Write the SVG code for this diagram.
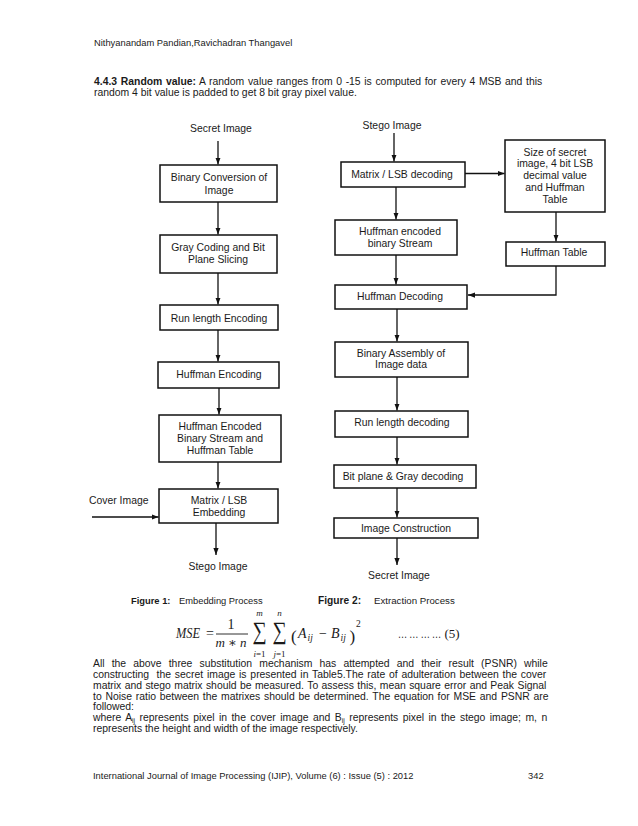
<svg xmlns="http://www.w3.org/2000/svg" width="638" height="826" viewBox="0 0 638 826">
<defs>
<marker id="ah" viewBox="0 0 8 6" refX="8" refY="3" markerWidth="7" markerHeight="5.5" orient="auto" markerUnits="userSpaceOnUse"><path d="M0,0 L8,3 L0,6 z" fill="#111"/></marker>
<style>
.t{font-family:"Liberation Sans",Arial,sans-serif;fill:#1a1a1a}
.fc{font-family:"Liberation Sans",Arial,sans-serif;font-size:10.4px;fill:#1a1a1a;text-anchor:middle}
.p{font-family:"Liberation Sans",Arial,sans-serif;font-size:10.4px;fill:#1a1a1a}
.box{fill:#fff;stroke:#111;stroke-width:1.5}
.ln{fill:none;stroke:#111;stroke-width:1.3;marker-end:url(#ah)}
.m{font-family:"Liberation Serif","DejaVu Serif",serif;fill:#1a1a1a}
.mi{font-family:"Liberation Serif","DejaVu Serif",serif;font-style:italic;fill:#1a1a1a}
</style>
</defs>
<rect width="638" height="826" fill="#fff"/>

<g id="page-text">
<text class="t" x="94" y="45.5" font-size="9.36">Nithyanandam Pandian,Ravichadran Thangavel</text>
<text class="p" x="94" y="84.5" style="word-spacing:0.75px"><tspan font-weight="bold">4.4.3 Random value:</tspan> A random value ranges from 0 -15 is computed for every 4 MSB and this</text>
<text class="p" x="94" y="96">random 4 bit value is padded to get 8 bit gray pixel value.</text>

<text class="p" x="93" y="667" style="word-spacing:4.25px">All the above three substitution mechanism has attempted and their result (PSNR) while</text>
<text class="p" x="93" y="678" xml:space="preserve" style="word-spacing:0.91px">constructing  the secret image is presented in Table5.The rate of adulteration between the cover</text>
<text class="p" x="93" y="689" style="word-spacing:0.51px">matrix and stego matrix should be measured. To assess this, mean square error and Peak Signal</text>
<text class="p" x="93" y="699.5" style="word-spacing:0.89px">to Noise ratio between the matrixes should be determined. The equation for MSE and PSNR are</text>
<text class="p" x="93" y="710">followed:</text>
<text class="p" x="93" y="721" style="word-spacing:1.56px">where A<tspan font-size="6.8" dy="2">ij</tspan><tspan dy="-2"> represents pixel in the cover image and B</tspan><tspan font-size="6.8" dy="2">ij</tspan><tspan dy="-2"> represents pixel in the stego image; m, n</tspan></text>
<text class="p" x="93" y="731.5">represents the height and width of the image respectively.</text>

<text class="t" x="93" y="778.5" font-size="9.36">International Journal of Image Processing (IJIP), Volume (6) : Issue (5) : 2012</text>
<text class="t" x="528" y="778.5" font-size="9.36">342</text>

<text class="t" x="131" y="603.5" font-size="9.36" font-weight="bold">Figure 1:</text>
<text class="t" x="179" y="603.5" font-size="9.36">Embedding Process</text>
<text class="t" x="318" y="603.5" font-size="10.2" font-weight="bold">Figure 2:</text>
<text class="t" x="374" y="603.5" font-size="9.7">Extraction Process</text>
</g>

<g id="formula">
<text class="mi" x="176" y="638" font-size="14" textLength="24" lengthAdjust="spacingAndGlyphs">MSE</text>
<text class="m" x="210" y="638" font-size="14" text-anchor="middle">=</text>
<text class="m" x="231" y="629" font-size="14" text-anchor="middle">1</text>
<line x1="216" y1="634" x2="248" y2="634" stroke="#1a1a1a" stroke-width="0.9"/>
<text class="mi" x="231" y="647" font-size="13" text-anchor="middle">m <tspan font-style="normal">∗</tspan> n</text>
<text class="m" font-size="25" text-anchor="middle" font-family="DejaVu Serif" transform="translate(259.5,638.5) scale(0.8,1)">∑</text>
<text class="m" font-size="25" text-anchor="middle" font-family="DejaVu Serif" transform="translate(279.5,638.5) scale(0.8,1)">∑</text>
<text class="mi" x="259.5" y="616" font-size="9" text-anchor="middle">m</text>
<text class="mi" x="279.5" y="616" font-size="9" text-anchor="middle">n</text>
<text class="mi" x="259.5" y="657" font-size="9" text-anchor="middle">i<tspan font-style="normal">=1</tspan></text>
<text class="mi" x="279.5" y="657" font-size="9" text-anchor="middle">j<tspan font-style="normal">=1</tspan></text>
<text class="m" x="291" y="642" font-size="17">(</text>
<text class="mi" x="298" y="638" font-size="14">A</text>
<text class="mi" x="307.5" y="641" font-size="9.5">ij</text>
<text class="m" x="323" y="638" font-size="14" text-anchor="middle">−</text>
<text class="mi" x="331" y="638" font-size="14">B</text>
<text class="mi" x="340.5" y="641" font-size="9.5">ij</text>
<text class="m" x="349.5" y="642" font-size="17">)</text>
<text class="m" x="356" y="626.5" font-size="9.5">2</text>
<text class="m" x="398" y="638" font-size="13" textLength="43" lengthAdjust="spacingAndGlyphs">… … … …</text>
<text class="m" x="444.5" y="638" font-size="13">(5)</text>
</g>

<g id="connectors">
<line class="ln" x1="218" y1="141" x2="218" y2="164.5"/>
<line class="ln" x1="218" y1="202" x2="218" y2="234.5"/>
<line class="ln" x1="218" y1="273" x2="218" y2="304.5"/>
<line class="ln" x1="218" y1="330" x2="218" y2="361.5"/>
<line class="ln" x1="219" y1="388" x2="219" y2="414.5"/>
<line class="ln" x1="218" y1="462" x2="218" y2="488.5"/>
<line class="ln" x1="92" y1="517" x2="158.5" y2="517"/>
<line class="ln" x1="216" y1="523" x2="216" y2="555"/>
<line class="ln" x1="394" y1="133" x2="394" y2="161.5"/>
<line class="ln" x1="465" y1="173.5" x2="504.5" y2="173.5"/>
<line class="ln" x1="556" y1="212" x2="556" y2="241.5"/>
<polyline class="ln" points="556,266 556,295 468,295"/>
<line class="ln" x1="396" y1="187" x2="396" y2="219.5"/>
<line class="ln" x1="396" y1="255" x2="396" y2="284.5"/>
<line class="ln" x1="397" y1="309" x2="397" y2="341.5"/>
<line class="ln" x1="397" y1="377" x2="397" y2="410.5"/>
<line class="ln" x1="397" y1="437" x2="397" y2="464.5"/>
<line class="ln" x1="397" y1="488" x2="397" y2="517.5"/>
<line class="ln" x1="397" y1="538" x2="397" y2="565"/>
</g>

<g id="secret-image-in"><text class="fc" x="221" y="132">Secret Image</text></g>
<g id="binary-conversion"><rect class="box" x="160" y="165" width="117" height="37"/><text class="fc" x="219" y="181">Binary Conversion of</text><text class="fc" x="219" y="193.5">Image</text></g>
<g id="gray-coding"><rect class="box" x="160" y="235" width="117" height="38"/><text class="fc" x="218" y="251">Gray Coding and Bit</text><text class="fc" x="218" y="262.5">Plane Slicing</text></g>
<g id="rle-encoding"><rect class="box" x="160" y="305" width="118" height="25"/><text class="fc" x="219" y="321.5">Run length Encoding</text></g>
<g id="huffman-encoding"><rect class="box" x="158" y="362" width="121" height="26"/><text class="fc" x="219" y="377.5">Huffman Encoding</text></g>
<g id="huffman-encoded-stream"><rect class="box" x="159" y="415" width="122" height="47"/><text class="fc" x="220" y="429.5">Huffman Encoded</text><text class="fc" x="220" y="441.5">Binary Stream and</text><text class="fc" x="220" y="453.5">Huffman Table</text></g>
<g id="matrix-lsb-embedding"><rect class="box" x="159" y="489" width="119" height="34"/><text class="fc" x="219" y="503.5">Matrix / LSB</text><text class="fc" x="219" y="515.5">Embedding</text></g>
<g id="cover-image"><text class="t" x="89" y="503.5" font-size="10.4">Cover Image</text></g>
<g id="stego-image-out"><text class="fc" x="218" y="569.5">Stego Image</text></g>

<g id="stego-image-in"><text class="fc" x="392" y="128.5">Stego Image</text></g>
<g id="matrix-lsb-decoding"><rect class="box" x="341" y="162" width="124" height="25"/><text class="fc" x="402" y="177.5">Matrix / LSB decoding</text></g>
<g id="size-info"><rect class="box" x="505" y="140" width="100" height="72"/><text class="fc" x="555" y="155.7">Size of secret</text><text class="fc" x="555" y="167.4">image, 4 bit LSB</text><text class="fc" x="555" y="179">decimal value</text><text class="fc" x="555" y="190.7">and Huffman</text><text class="fc" x="555" y="202.5">Table</text></g>
<g id="huffman-table"><rect class="box" x="506" y="242" width="99" height="24"/><text class="fc" x="554" y="256">Huffman Table</text></g>
<g id="huffman-encoded-binary"><rect class="box" x="335" y="220" width="122" height="35"/><text class="fc" x="400" y="234.7">Huffman encoded</text><text class="fc" x="400" y="246.7">binary Stream</text></g>
<g id="huffman-decoding"><rect class="box" x="335" y="285" width="132" height="24"/><text class="fc" x="400" y="299.5">Huffman Decoding</text></g>
<g id="binary-assembly"><rect class="box" x="335" y="342" width="133" height="35"/><text class="fc" x="401" y="356.5">Binary Assembly of</text><text class="fc" x="401" y="368.3">Image data</text></g>
<g id="rle-decoding"><rect class="box" x="335" y="411" width="133" height="26"/><text class="fc" x="402" y="425.7">Run length decoding</text></g>
<g id="bitplane-gray-decoding"><rect class="box" x="334" y="465" width="142" height="23"/><text class="fc" x="403" y="479.7">Bit plane &amp; Gray decoding</text></g>
<g id="image-construction"><rect class="box" x="334" y="518" width="144" height="20"/><text class="fc" x="406" y="531.7">Image Construction</text></g>
<g id="secret-image-out"><text class="fc" x="399" y="578.7">Secret Image</text></g>
</svg>
